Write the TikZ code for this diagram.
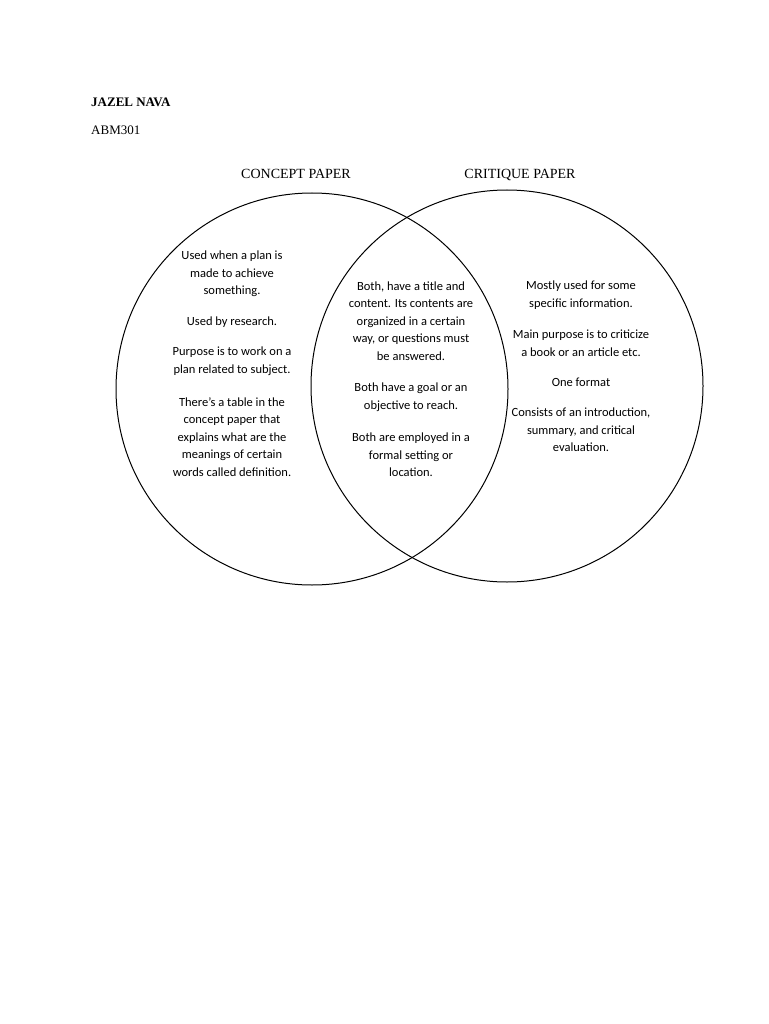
\documentclass[tikz,border=0pt]{standalone}
\usepackage{fontspec}
\setmainfont{Liberation Serif}
\newfontfamily\carlitofont{Carlito}
\begin{document}
\begin{tikzpicture}[x=1pt,y=-1pt,
  circ/.style={draw,line width=1pt},
  body/.style={font=\carlitofont\fontsize{12.5}{17.5}\selectfont,align=center,inner sep=0pt},
  head/.style={font=\fontsize{14}{16}\selectfont,inner sep=0pt}]
\useasboundingbox (0,0) rectangle (768,1024);
\fill[white] (0,0) rectangle (768,1024);
\node[circ,circle,minimum size=392pt] (L) at (312,389) {};
\node[circ,circle,minimum size=392pt] (R) at (507,386) {};
\node[head,anchor=west,font=\bfseries\fontsize{13}{15}\selectfont] (n) at (91,102) {JAZEL NAVA};
\node[head,anchor=west,font=\fontsize{13}{15}\selectfont] (a) at (91,130) {ABM301};
\node[head] (h1) at (296,174) {CONCEPT PAPER};
\node[head] (h2) at (520,175) {CRITIQUE PAPER};
\node[body] (l1) at (232,274) {Used when a plan is\\made to achieve\\something.};
\node[body] (l2) at (232,322) {Used by research.};
\node[body] (l3) at (232,361) {Purpose is to work on a\\plan related to subject.};
\node[body] (l4) at (232,437) {There’s a table in the\\concept paper that\\explains what are the\\meanings of certain\\words called definition.};
\node[body] (m1) at (411,321) {Both, have a title and\\content. Its contents are\\organized in a certain\\way, or questions must\\be answered.};
\node[body] (m2) at (411,397) {Both have a goal or an\\objective to reach.};
\node[body] (m3) at (411,455) {Both are employed in a\\formal setting or\\location.};
\node[body] (r1) at (581,295) {Mostly used for some\\specific information.};
\node[body] (r2) at (581,343) {Main purpose is to criticize\\a book or an article etc.};
\node[body] (r3) at (581,382) {One format};
\node[body] (r4) at (581,430) {Consists of an introduction,\\summary, and critical\\evaluation.};
\end{tikzpicture}
\end{document}
